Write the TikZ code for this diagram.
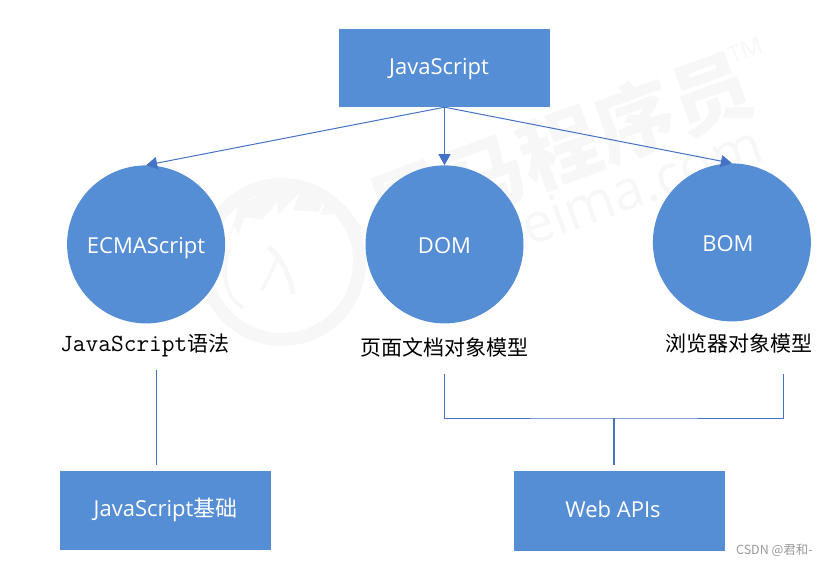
\documentclass[tikz,border=0pt]{standalone}
\usepackage{fontspec}
\setmainfont{Open Sans}
\newfontfamily\cjkfont{Noto Sans CJK SC}
\usetikzlibrary{arrows.meta,calc,positioning}
\definecolor{boxblue}{RGB}{85,142,213}
\definecolor{linkblue}{RGB}{68,114,196}
\definecolor{markgray}{RGB}{247,247,247}
\begin{document}
\begin{tikzpicture}[
  x=1pt,y=-1pt,
  >={Triangle[width=12pt,length=11pt]},
  font=\fontsize{22}{26}\selectfont,
  topicbox/.style={fill=boxblue,text=white,inner sep=0pt,minimum width=211pt,minimum height=79pt,text height=17pt,text depth=5pt},
  topiccircle/.style={circle,fill=boxblue,text=white,inner sep=0pt,minimum size=158pt,text height=18pt,text depth=0pt},
  caption/.style={inner sep=0pt,text=black,font=\fontsize{21}{25}\selectfont\cjkfont},
  link/.style={draw=linkblue,line width=1pt}
]
  \useasboundingbox (0,0) rectangle (827,565);
  % faint watermark
  \draw[markgray,line width=13pt] (282,262) circle (77.5);
  \fill[markgray] (228,250) -- (233,223) -- (238,235) -- (245,217) -- (262,220) -- (277,202) -- (278,215) -- (300,192)
    -- (293,210) -- (318,212) -- (328,197) -- (320,215) -- (353,212) -- (343,222) -- (363,230) -- (345,205) -- (282,185) -- (238,205) -- cycle;
  \draw[markgray,line width=5pt] (268,247) .. controls (280,255) and (290,275) .. (293,294);
  \draw[markgray,line width=4pt] (278,258) -- (262,290);
  \draw[markgray,line width=4pt] (228,250) .. controls (222,275) and (224,295) .. (243,308);
  \node[text=markgray,rotate=20,font=\fontsize{80}{85}\selectfont\cjkfont\bfseries] (mark) at (560,148) {黑马程序员};
  \node[text=markgray,rotate=20,font=\fontsize{55}{60}\selectfont] (markurl) at (625,190) {heima.com};
  \node[text=markgray,rotate=20,font=\fontsize{24}{28}\selectfont] (marktm) at (745,50) {TM};

  \node[topicbox,minimum height=78pt] (root) at (444.5,68) {JavaScript\kern11pt};
  \node[topiccircle,below=58pt of root] (dom) {DOM};
  \node[topiccircle,left=140pt of dom] (ecma) {ECMAScript};
  \node[topiccircle,right=129pt of dom,yshift=2pt] (bom) {BOM\kern8pt};

  \node[caption,anchor=base west] (syntax) at (60,351) {{\ttfamily\fontsize{24.7}{25}\selectfont JavaScript}语法};
  \node[caption,anchor=base] (domcap) at (444,355) {页面文档对象模型};
  \node[caption,anchor=base] (bomcap) at (739,351) {浏览器对象模型};

  \node[topicbox] (basics) at (165.5,510.5) {JavaScript{\cjkfont 基础}};
  \node[topicbox,minimum height=80pt] (webapi) at (619.5,511) {Web APIs\kern13pt};
  \node[text=gray!80,anchor=base east,inner sep=0pt,font=\fontsize{12.5}{15}\selectfont\cjkfont] (csdn) at (813,554) {CSDN @君和-};

  \coordinate (syntaxend) at (156,370);
  \coordinate (basicsend) at (156,465);
  \coordinate (domend) at (444,374);
  \coordinate (bomend) at (783,374);
  \coordinate (joint) at (614,418);
  \coordinate (webend) at (614,465);

  \draw[link,->] (root.south) -- (ecma.north);
  \draw[link,->] (root.south) -- (dom.north);
  \draw[link,->] (root.south) -- (bom.north);
  \draw[link] (syntaxend) -- (basicsend);
  \draw[link] (domend) |- (joint) -| (bomend);
  \draw[link,line width=2pt] (joint) -- (webend);
\end{tikzpicture}
\end{document}
